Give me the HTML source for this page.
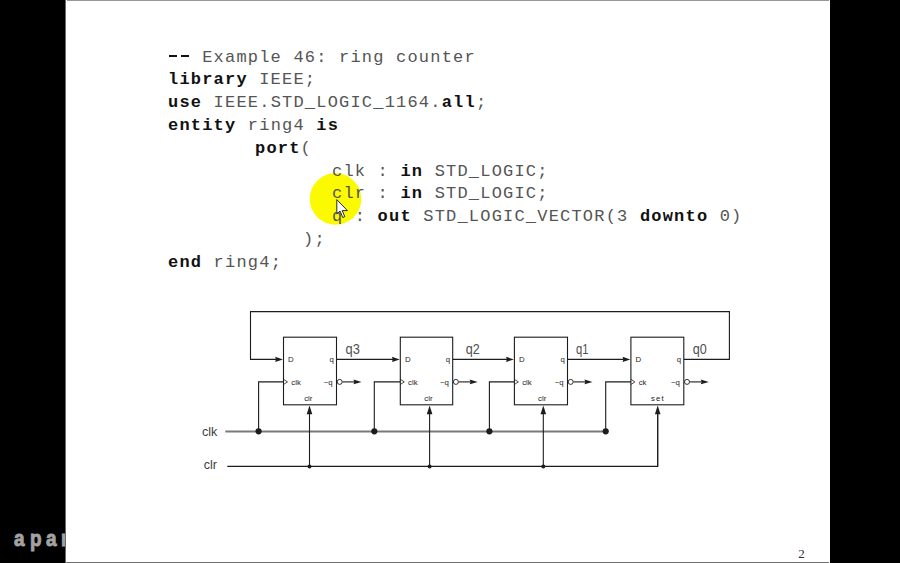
<!DOCTYPE html>
<html><head><meta charset="utf-8">
<style>
html,body{margin:0;padding:0;}
body{width:900px;height:563px;background:#000;position:relative;overflow:hidden;}
#wm span{position:absolute;top:527.5px;line-height:22px;font-family:"Liberation Sans",sans-serif;font-weight:bold;font-size:22px;color:#a2a2a2;-webkit-text-stroke:0.9px #a2a2a2;transform:scaleX(0.86);transform-origin:0 0;}
#slide{position:absolute;left:66px;top:0;width:764px;height:563px;background:#fff;}
#tb{position:absolute;left:67px;top:0;width:762px;height:1px;background:#979797;}
#lc{position:absolute;left:65px;top:0;width:1px;height:563px;background:#6a6a6a;}
#bb{position:absolute;left:66px;top:562px;width:763px;height:1px;background:#707070;}
.ln{position:absolute;font-family:"Liberation Mono",monospace;font-size:17px;letter-spacing:1.2px;line-height:22px;height:22px;white-space:pre;color:#555;}
.ln b{color:#111;font-weight:bold;}
#pg{position:absolute;left:798.3px;top:545.7px;font-family:"Liberation Serif",serif;font-size:13px;color:#333;}
svg{position:absolute;left:0;top:0;}
</style></head><body>
<div id="wm"><span style="left:13.5px">a</span><span style="left:29.8px">p</span><span style="left:45.8px">a</span><span style="left:60.8px">r</span></div>
<div id="slide"></div>
<div id="lc"></div>
<div id="tb"></div>
<div id="bb"></div>

<svg width="900" height="563" viewBox="0 0 900 563" style="position:absolute;left:0;top:0">
<circle cx="335.5" cy="198.9" r="25.8" fill="#fcfa00"/>
<path d="M336.8,199.6 L336.8,214 L340,211 L342.8,217.5 L344.8,216.6 L342.2,210.6 L347.4,210.6 Z" fill="#fff" stroke="#111" stroke-width="0.9" stroke-linejoin="round"/>
</svg>

<div class="ln" style="left:168px;top:46.54px"><b style="color:transparent">--</b> Example 46: ring counter</div>
<div class="ln" style="left:168px;top:69.34px"><b>library</b> IEEE;</div>
<div class="ln" style="left:168px;top:92.14px"><b>use</b> IEEE.STD_LOGIC_1164.<b>all</b>;</div>
<div class="ln" style="left:168px;top:114.94px"><b>entity</b> ring4 <b>is</b></div>
<div class="ln" style="left:255px;top:137.74px"><b>port</b>(</div>
<div class="ln" style="left:332px;top:160.54px">clk : <b>in</b> STD_LOGIC;</div>
<div class="ln" style="left:332px;top:183.34px">clr : <b>in</b> STD_LOGIC;</div>
<div class="ln" style="left:332px;top:206.14px">q : <b>out</b> STD_LOGIC_VECTOR(3 <b>downto</b> 0)</div>
<div class="ln" style="left:303px;top:228.94px">);</div>
<div class="ln" style="left:168px;top:251.74px"><b>end</b> ring4;</div>

<svg width="900" height="563" viewBox="0 0 900 563" style="position:absolute;left:0;top:0" font-family="Liberation Sans, sans-serif">
<g stroke="#1c1c1c" stroke-width="1.1" fill="none">
<line x1="225.3" y1="431.5" x2="605.7" y2="431.5" stroke="#7a7a7a" stroke-width="1.9"/>
<polyline points="683.8,359.4 729.4,359.4 729.4,311.6 250.5,311.6 250.5,359.4 276,359.4"/>
<rect x="283.5" y="337.2" width="53.0" height="67.6"/>
<line x1="336.5" y1="359.4" x2="393.3" y2="359.4"/>
<polyline points="258.6,431.3 258.6,381.9 283.5,381.9"/>
<line x1="309.5" y1="466.4" x2="309.5" y2="410.8"/>
<line x1="342.5" y1="381.9" x2="354.5" y2="381.9"/>
<circle cx="339.7" cy="381.9" r="2.5" stroke-width="0.9"/>
<polyline points="283.5,379.29999999999995 287.5,381.9 283.5,384.5" stroke-width="0.8"/>
<rect x="400.3" y="337.2" width="52.4" height="67.6"/>
<line x1="452.7" y1="359.4" x2="507.4" y2="359.4"/>
<polyline points="374.3,431.3 374.3,381.9 400.3,381.9"/>
<line x1="429.6" y1="466.4" x2="429.6" y2="410.8"/>
<line x1="458.7" y1="381.9" x2="470.7" y2="381.9"/>
<circle cx="455.9" cy="381.9" r="2.5" stroke-width="0.9"/>
<polyline points="400.3,379.29999999999995 404.3,381.9 400.3,384.5" stroke-width="0.8"/>
<rect x="514.4" y="337.2" width="53.1" height="67.6"/>
<line x1="567.5" y1="359.4" x2="623.9" y2="359.4"/>
<polyline points="489.4,431.3 489.4,381.9 514.4,381.9"/>
<line x1="543.3" y1="466.4" x2="543.3" y2="410.8"/>
<line x1="573.5" y1="381.9" x2="585.5" y2="381.9"/>
<circle cx="570.7" cy="381.9" r="2.5" stroke-width="0.9"/>
<polyline points="514.4,379.29999999999995 518.4,381.9 514.4,384.5" stroke-width="0.8"/>
<rect x="630.9" y="337.2" width="52.9" height="67.6"/>
<polyline points="605.7,431.3 605.7,381.9 630.9,381.9"/>
<line x1="657.7" y1="466.4" x2="657.7" y2="410.8"/>
<line x1="689.8" y1="381.9" x2="701.8" y2="381.9"/>
<circle cx="687.0" cy="381.9" r="2.5" stroke-width="0.9"/>
<polyline points="630.9,379.29999999999995 634.9,381.9 630.9,384.5" stroke-width="0.8"/>
<polyline points="227.3,466.4 657.7,466.4 657.7,410.8"/>
</g>
<g fill="#1c1c1c">
<polygon points="282.9,359.4 275.2,356.79999999999995 275.9,359.4 275.2,362.0"/>
<polygon points="361.5,381.9 353.5,379.5 354.3,381.9 353.5,384.29999999999995"/>
<polygon points="309.5,405.40000000000003 306.7,414.3 312.3,414.3"/>
<circle cx="258.6" cy="431.3" r="3.1"/>
<circle cx="309.5" cy="466.4" r="2"/>
<polygon points="399.7,359.4 392.0,356.79999999999995 392.7,359.4 392.0,362.0"/>
<polygon points="477.7,381.9 469.7,379.5 470.5,381.9 469.7,384.29999999999995"/>
<polygon points="429.6,405.40000000000003 426.8,414.3 432.40000000000003,414.3"/>
<circle cx="374.3" cy="431.3" r="3.1"/>
<circle cx="429.6" cy="466.4" r="2"/>
<polygon points="513.8,359.4 506.09999999999997,356.79999999999995 506.79999999999995,359.4 506.09999999999997,362.0"/>
<polygon points="592.5,381.9 584.5,379.5 585.3,381.9 584.5,384.29999999999995"/>
<polygon points="543.3,405.40000000000003 540.5,414.3 546.0999999999999,414.3"/>
<circle cx="489.4" cy="431.3" r="3.1"/>
<circle cx="543.3" cy="466.4" r="2"/>
<polygon points="630.3,359.4 622.6,356.79999999999995 623.3,359.4 622.6,362.0"/>
<polygon points="708.8,381.9 700.8,379.5 701.5999999999999,381.9 700.8,384.29999999999995"/>
<polygon points="657.7,405.40000000000003 654.9000000000001,414.3 660.5,414.3"/>
<circle cx="605.7" cy="431.3" r="3.1"/>
</g>
<g fill="#505050" font-size="15">
<text x="345.5" y="353.7" textLength="14.3" lengthAdjust="spacingAndGlyphs">q3</text>
<text x="465.8" y="353.7" textLength="14" lengthAdjust="spacingAndGlyphs">q2</text>
<text x="576" y="353.7" textLength="12.5" lengthAdjust="spacingAndGlyphs">q1</text>
<text x="692.7" y="353.7" textLength="14" lengthAdjust="spacingAndGlyphs">q0</text>
</g>
<g fill="#404040" font-size="12.3">
<text x="202" y="435.8" textLength="15.4" lengthAdjust="spacingAndGlyphs">clk</text>
<text x="203.8" y="468.6" textLength="13.2" lengthAdjust="spacingAndGlyphs">clr</text>
</g>
<g fill="#222" font-size="7.8">
<text x="288.1" y="362.2">D</text>
<text x="329.5" y="362.2">q</text>
<text x="291.3" y="384.8">clk</text>
<text x="323.7" y="384.8">~q</text>
<text x="304.2" y="401" >clr</text>
<text x="404.90000000000003" y="362.2">D</text>
<text x="445.7" y="362.2">q</text>
<text x="408.1" y="384.8">clk</text>
<text x="439.9" y="384.8">~q</text>
<text x="424.3" y="401" >clr</text>
<text x="519.0" y="362.2">D</text>
<text x="560.5" y="362.2">q</text>
<text x="522.1999999999999" y="384.8">clk</text>
<text x="554.7" y="384.8">~q</text>
<text x="538.0" y="401" >clr</text>
<text x="635.5" y="362.2">D</text>
<text x="676.8" y="362.2">q</text>
<text x="638.6999999999999" y="384.8">ck</text>
<text x="671.0" y="384.8">~q</text>
<text x="650.9000000000001" y="401" letter-spacing="1.2">set</text>
</g>
</svg>



<div style="position:absolute;left:169px;top:55px;width:8px;height:2px;background:#111"></div>
<div style="position:absolute;left:181px;top:55px;width:8px;height:2px;background:#111"></div>
<div id="pg">2</div>
</body></html>
